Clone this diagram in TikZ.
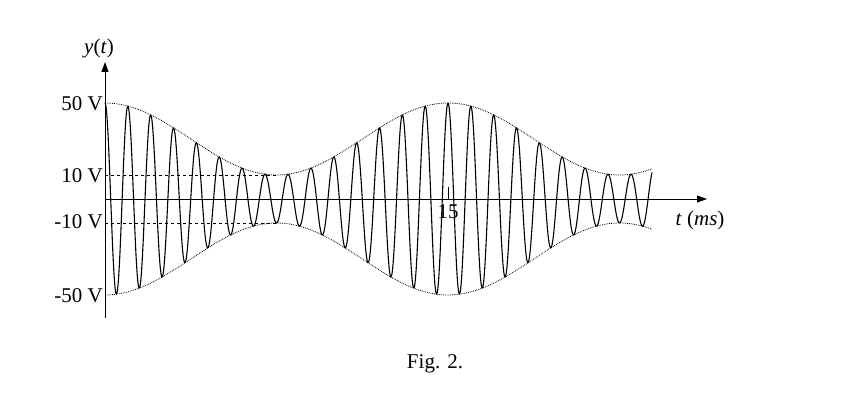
\documentclass[tikz,border=0pt]{standalone}
\usepackage{fontspec}
\setmainfont{Liberation Serif}
\usetikzlibrary{arrows.meta}
\begin{document}
\begin{tikzpicture}[x=1pt,y=-1pt,font=\fontsize{21}{23}\selectfont,
  ax/.style={line width=1pt,-{Triangle[length=10pt,width=7pt]}},
  env/.style={densely dotted,line width=0.8pt},
  dash10/.style={dashed,line width=0.7pt},
  declare function={E(\x)=60+36*cos((\x-105)*1.04956);}]
\useasboundingbox (0,0) rectangle (856,406);
\coordinate (O) at (105,199);
\coordinate (xe) at (707,199);
\coordinate (ys) at (105,318);
\coordinate (ye) at (105,62);
\draw[ax] (O) -- (xe);
\draw[ax] (ys) -- (ye);
\draw[line width=1.1pt,line join=round] plot[domain=105:652,samples=900,smooth] (\x,{199-E(\x)*cos((\x-105)*15.7432)});
\draw[env] plot[domain=105:652,samples=120,smooth] (\x,{199-E(\x)});
\draw[env] plot[domain=105:652,samples=120,smooth] (\x,{199+E(\x)});
\coordinate (a) at (105,175); \coordinate (b) at (277,175);
\coordinate (c) at (105,223); \coordinate (d) at (277,223);
\draw[dash10] (a) -- (b); \draw[dash10] (c) -- (d);
\coordinate (t1) at (448,187); \coordinate (t2) at (448,199);
\draw[line width=0.9pt] (t1) -- (t2);
\node (n15) at (448,212) {15};
\node (yl) at (99,48) {\textit{y}(\textit{t})};
\node[anchor=east,inner sep=1pt] (l50) at (104,104) {50 V};
\node[anchor=east,inner sep=1pt] (l10) at (104,176) {10 V};
\node[anchor=east,inner sep=1pt] (lm10) at (104,222) {-10 V};
\node[anchor=east,inner sep=1pt] (lm50) at (104,296) {-50 V};
\node (tl) at (700,220) {\textit{t} (\textit{ms})};
\node (fig) at (435,364) {Fig. 2.};
\end{tikzpicture}
\end{document}
